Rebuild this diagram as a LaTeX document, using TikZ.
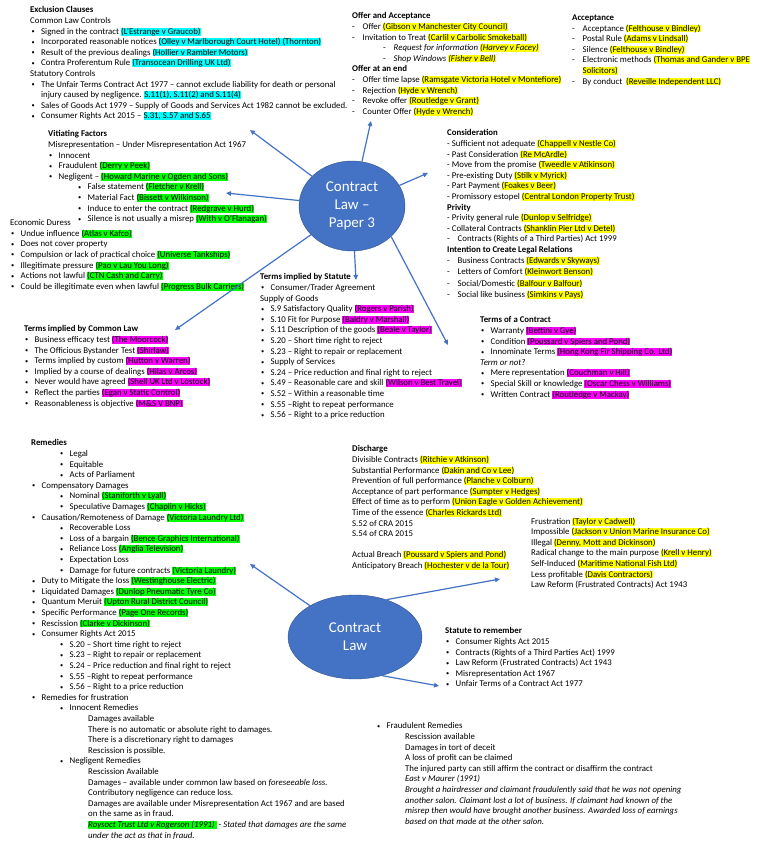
\documentclass[tikz,border=0pt]{standalone}
\usepackage{fontspec}
\setmainfont{Carlito}
\usetikzlibrary{arrows.meta,shapes.geometric}
\definecolor{blob}{HTML}{4472C4}
\definecolor{blobline}{HTML}{2F528F}
\definecolor{hcy}{HTML}{00FFFF}
\definecolor{hye}{HTML}{FFFF00}
\definecolor{hgr}{HTML}{00FF00}
\definecolor{hma}{HTML}{FF00FF}
\newcommand{\hl}[2]{{\setlength{\fboxsep}{0pt}\colorbox{#1}{\vphantom{(}#2}}}
\newcommand{\bu}{\makebox[9.5pt][l]{\raisebox{0.6pt}{\scalebox{0.72}{\textbullet}}}}
\newcommand{\da}{\makebox[10.5pt][l]{-}}
\newcommand{\ind}[1]{\hspace*{#1pt}}

\begin{document}
\begin{tikzpicture}[x=1pt,y=-1pt,
  blk/.style={anchor=north west,inner sep=0pt,align=left,font=\fontsize{8.8}{10.6}\selectfont},
  hub/.style={ellipse,fill=blob,draw=blobline,thin,text=white,align=center,inner sep=0pt,font=\fontsize{15}{18}\selectfont},
  arr/.style={blob,line width=1.2pt,-{Triangle[length=5pt,width=4.5pt]}}]
\useasboundingbox (0,0) rectangle (768,866);
\fill[white] (0,0) rectangle (768,866);

% first map
\node[hub,minimum width=106,minimum height=90] (paper3) at (352,206) {Contract\\Law –\\Paper 3};

\node[blk] (excl) at (30,6.5) {\textbf{Exclusion Clauses}\\
Common Law Controls\\
\ind{1.5}\bu Signed in the contract \hl{hcy}{(L’Estrange v Graucob)}\\
\ind{1.5}\bu Incorporated reasonable notices \hl{hcy}{(Olley v Marlborough Court Hotel) (Thornton)}\\
\ind{1.5}\bu Result of the previous dealings \hl{hcy}{(Hollier v Rambler Motors)}\\
\ind{1.5}\bu Contra Proferentum Rule \hl{hcy}{(Transocean Drilling UK Ltd)}\\
Statutory Controls\\
\ind{1.5}\bu The Unfair Terms Contract Act 1977 – cannot exclude liability for death or personal\\
\ind{11}injury caused by negligence. \hl{hcy}{S.11(1), S.11(2) and S.11(4)}\\
\ind{1.5}\bu Sales of Goods Act 1979 – Supply of Goods and Services Act 1982 cannot be excluded.\\
\ind{1.5}\bu Consumer Rights Act 2015 – \hl{hcy}{S.31, S.57 and S.65}};

\node[blk] (vitiate) at (48,130.5) {\textbf{Vitiating Factors}\\
Misrepresentation – Under Misrepresentation Act 1967\\
\ind{1}\bu Innocent\\
\ind{1}\bu Fraudulent \hl{hgr}{(Derry v Peek)}\\
\ind{1}\bu Negligent – \hl{hgr}{(Howard Marine v Ogden and Sons)}\\
\ind{30}\bu False statement \hl{hgr}{(Fletcher v Krell)}\\
\ind{30}\bu Material Fact \hl{hgr}{(Bissett v Wilkinson)}\\
\ind{30}\bu Induce to enter the contract \hl{hgr}{(Redgrave v Hurd)}\\
\ind{30}\bu Silence is not usually a misrep \hl{hgr}{(With v O’Flanagan)}};

\node[blk] (duress) at (10,219.5) {Economic Duress\\
\ind{1}\bu Undue influence \hl{hgr}{(Atlas v Kafco)}\\
\ind{1}\bu Does not cover property\\
\ind{1}\bu Compulsion or lack of practical choice \hl{hgr}{(Universe Tankships)}\\
\ind{1}\bu Illegitimate pressure \hl{hgr}{(Pao v Lau You Long)}\\
\ind{1}\bu Actions not lawful \hl{hgr}{(CTN Cash and Carry)}\\
\ind{1}\bu Could be illegitimate even when lawful \hl{hgr}{(Progress Bulk Carriers)}};

\node[blk] (offer) at (352,12.5) {\textbf{Offer and Acceptance}\\
\da Offer \hl{hye}{(Gibson v Manchester City Council)}\\
\da Invitation to Treat \hl{hye}{(Carlil v Carbolic Smokeball)}\\
\ind{31}\da\textit{Request for information \hl{hye}{(Harvey v Facey)}}\\
\ind{31}\da\textit{Shop Windows \hl{hye}{(Fisher v Bell)}}\\
\textbf{Offer at an end}\\
\da Offer time lapse \hl{hye}{(Ramsgate Victoria Hotel v Montefiore)}\\
\da Rejection \hl{hye}{(Hyde v Wrench)}\\
\da Revoke offer \hl{hye}{(Routledge v Grant)}\\
\da Counter Offer \hl{hye}{(Hyde v Wrench)}};

\node[blk] (accept) at (572,14.5) {\textbf{Acceptance}\\
\da Acceptance \hl{hye}{(Felthouse v Bindley)}\\
\da Postal Rule \hl{hye}{(Adams v Lindsall)}\\
\da Silence \hl{hye}{(Felthouse v Bindley)}\\
\da Electronic methods \hl{hye}{(Thomas and Gander v BPE}\\
\ind{10.5}\hl{hye}{Solicitors)}\\
\da By conduct \ \hl{hye}{(Reveille Independent LLC)}};

\node[blk] (consid) at (447,129.5) {\textbf{Consideration}\\
- Sufficient not adequate \hl{hye}{(Chappell v Nestle Co)}\\
- Past Consideration \hl{hye}{(Re McArdle)}\\
- Move from the promise \hl{hye}{(Tweedle v Atikinson)}\\
- Pre-existing Duty \hl{hye}{(Stilk v Myrick)}\\
- Part Payment \hl{hye}{(Foakes v Beer)}\\
- Promissory estopel \hl{hye}{(Central London Property Trust)}\\
\textbf{Privity}\\
- Privity general rule \hl{hye}{(Dunlop v Selfridge)}\\
- Collateral Contracts \hl{hye}{(Shanklin Pier Ltd v Detel)}\\
\da Contracts (Rights of a Third Parties) Act 1999\\
\textbf{Intention to Create Legal Relations}\\[0.6pt]
\da Business Contracts \hl{hye}{(Edwards v Skyways)}\\[0.6pt]
\da Letters of Comfort \hl{hye}{(Kleinwort Benson)}\\[0.6pt]
\da Social/Domestic \hl{hye}{(Balfour v Balfour)}\\[0.6pt]
\da Social like business \hl{hye}{(Simkins v Pays)}};

\node[blk] (terms) at (480,316.5) {\textbf{Terms of a Contract}\\
\ind{1}\bu Warranty \hl{hma}{(Bettini v Gye)}\\
\ind{1}\bu Condition \hl{hma}{(Poussard v Spiers and Pond)}\\
\ind{1}\bu Innominate Terms \hl{hma}{(Hong Kong Fir Shipping Co. Ltd)}\\
\textit{Term or not?}\\
\ind{1}\bu Mere representation \hl{hma}{(Couchman v Hill)}\\
\ind{1}\bu Special Skill or knowledge \hl{hma}{(Oscar Chess v Williams)}\\
\ind{1}\bu Written Contract \hl{hma}{(Routledge v Mackay)}};

\node[blk] (statute) at (260,273.5) {\textbf{Terms implied by Statute}\\
\ind{1}\bu Consumer/Trader Agreement\\
Supply of Goods\\
\ind{1}\bu S.9 Satisfactory Quality \hl{hma}{(Rogers v Parish)}\\
\ind{1}\bu S.10 Fit for Purpose \hl{hma}{(Baldry v Marshall)}\\
\ind{1}\bu S.11 Description of the goods \hl{hma}{(Beale v Taylor)}\\
\ind{1}\bu S.20 – Short time right to reject\\
\ind{1}\bu S.23 – Right to repair or replacement\\
\ind{1}\bu Supply of Services\\
\ind{1}\bu S.24 – Price reduction and final right to reject\\
\ind{1}\bu S.49 – Reasonable care and skill \hl{hma}{(Wilson v Best Travel)}\\
\ind{1}\bu S.52 – Within a reasonable time\\
\ind{1}\bu S.55 –Right to repeat performance\\
\ind{1}\bu S.56 – Right to a price reduction};

\node[blk] (common) at (24,325.5) {\textbf{Terms implied by Common Law}\\
\ind{1}\bu Business efficacy test \hl{hma}{(The Moorcock)}\\
\ind{1}\bu The Officious Bystander Test \hl{hma}{(Shirlaw)}\\
\ind{1}\bu Terms implied by custom \hl{hma}{(Hutton v Warren)}\\
\ind{1}\bu Implied by a course of dealings \hl{hma}{(Hilas v Arcos)}\\
\ind{1}\bu Never would have agreed \hl{hma}{(Shell UK Ltd v Lostock)}\\
\ind{1}\bu Reflect the parties \hl{hma}{(Egan v Static Control)}\\
\ind{1}\bu Reasonableness is objective \hl{hma}{(M\&S V BNP)}};

\coordinate (tExcl) at (250,130);
\coordinate (tVit) at (226,193);
\coordinate (tOffer) at (371,121);
\coordinate (tCons) at (428,173);
\coordinate (tCommon) at (175,330);
\coordinate (tStat) at (356,280);
\coordinate (tTerms) at (448,345);
\draw[arr] (paper3) -- (tExcl);
\draw[arr] (paper3) -- (tVit);
\draw[arr] (paper3) -- (tOffer);
\draw[arr] (paper3) -- (tCons);
\draw[arr] (paper3) -- (tCommon);
\draw[arr] (paper3) -- (tStat);
\draw[arr] (paper3.-38) -- (tTerms);

% second map
\node[hub,minimum width=134,minimum height=84] (law) at (355,637) {Contract\\Law};

\node[blk] (remedies) at (31,439.5) {\textbf{Remedies}\\
\ind{29}\bu Legal\\
\ind{29}\bu Equitable\\
\ind{29}\bu Acts of Parliament\\
\ind{1}\bu Compensatory Damages\\
\ind{29}\bu Nominal \hl{hgr}{(Staniforth v Lyall)}\\
\ind{29}\bu Speculative Damages \hl{hgr}{(Chaplin v Hicks)}\\
\ind{1}\bu Causation/Remoteness of Damage \hl{hgr}{(Victoria Laundry Ltd)}\\
\ind{29}\bu Recoverable Loss\\
\ind{29}\bu Loss of a bargain \hl{hgr}{(Bence Graphics International)}\\
\ind{29}\bu Reliance Loss \hl{hgr}{(Anglia Television)}\\
\ind{29}\bu Expectation Loss\\
\ind{29}\bu Damage for future contracts \hl{hgr}{(Victoria Laundry)}\\
\ind{1}\bu Duty to Mitigate the loss \hl{hgr}{(Westinghouse Electric)}\\
\ind{1}\bu Liquidated Damages \hl{hgr}{(Dunlop Pneumatic Tyre Co)}\\
\ind{1}\bu Quantum Meruit \hl{hgr}{(Upton Rural District Council)}\\
\ind{1}\bu Specific Performance \hl{hgr}{(Page One Records)}\\
\ind{1}\bu Rescission \hl{hgr}{(Clarke v Dickinson)}\\
\ind{1}\bu Consumer Rights Act 2015\\
\ind{29}\bu S.20 – Short time right to reject\\
\ind{29}\bu S.23 – Right to repair or replacement\\
\ind{29}\bu S.24 – Price reduction and final right to reject\\
\ind{29}\bu S.55 –Right to repeat performance\\
\ind{29}\bu S.56 – Right to a price reduction\\
\ind{1}\bu Remedies for frustration\\
\ind{29}\bu Innocent Remedies\\
\ind{57}Damages available\\
\ind{57}There is no automatic or absolute right to damages.\\
\ind{57}There is a discretionary right to damages\\
\ind{57}Rescission is possible.\\
\ind{29}\bu Negligent Remedies\\
\ind{57}Rescission Available\\
\ind{57}Damages – available under common law based on \textit{foreseeable loss.}\\
\ind{57}Contributory negligence can reduce loss.\\
\ind{57}Damages are available under Misrepresentation Act 1967 and are based\\
\ind{57}on the same as in fraud.\\
\ind{57}\hl{hgr}{\textit{Roysoct Trust Ltd v Rogerson (1991)} } - \textit{Stated that damages are the same}\\
\ind{57}\textit{under the act as that in fraud.}};

\node[blk] (discharge) at (352,445.5) {\textbf{Discharge}\\
Divisible Contracts \hl{hye}{(Ritchie v Atkinson)}\\
Substantial Performance \hl{hye}{(Dakin and Co v Lee)}\\
Prevention of full performance \hl{hye}{(Planche v Colburn)}\\
Acceptance of part performance \hl{hye}{(Sumpter v Hedges)}\\
Effect of time as to perform \hl{hye}{(Union Eagle v Golden Achievement)}\\
Time of the essence \hl{hye}{(Charles Rickards Ltd)}\\
S.52 of CRA 2015\\
S.54 of CRA 2015\\[10.6pt]
Actual Breach \hl{hye}{(Poussard v Spiers and Pond)}\\
Anticipatory Breach \hl{hye}{(Hochester v de la Tour)}};

\node[blk] (frustr) at (531,517.5) {Frustration \hl{hye}{(Taylor v Cadwell)}\\
Impossible \hl{hye}{(Jackson v Union Marine Insurance Co)}\\
Illegal \hl{hye}{(Denny, Mott and Dickinson)}\\
Radical change to the main purpose \hl{hye}{(Krell v Henry)}\\
Self-Induced \hl{hye}{(Maritime National Fish Ltd)}\\
Less profitable \hl{hye}{(Davis Contractors)}\\
Law Reform (Frustrated Contracts) Act 1943};

\node[blk] (remember) at (445,627.5) {\textbf{Statute to remember}\\
\ind{1}\bu Consumer Rights Act 2015\\
\ind{1}\bu Contracts (Rights of a Third Parties Act) 1999\\
\ind{1}\bu Law Reform (Frustrated Contracts) Act 1943\\
\ind{1}\bu Misrepresentation Act 1967\\
\ind{1}\bu Unfair Terms of a Contract Act 1977};

\node[blk] (fraud) at (377,722.5) {\bu Fraudulent Remedies\\
\ind{28}Rescission available\\
\ind{28}Damages in tort of deceit\\
\ind{28}A loss of profit can be claimed\\
\ind{28}The injured party can still affirm the contract or disaffirm the contract\\
\ind{28}\textit{East v Maurer (1991)}\\
\ind{28}\textit{Brought a hairdresser and claimant fraudulently said that he was not opening}\\
\ind{28}\textit{another salon. Claimant lost a lot of business. If claimant had known of the}\\
\ind{28}\textit{misrep then would have brought another business. Awarded loss of earnings}\\
\ind{28}\textit{based on that made at the other salon.}};

\coordinate (tRem) at (250,564);
\coordinate (tDis) at (500,579);
\coordinate (tRemember) at (439,686);
\draw[arr] (law) -- (tRem);
\draw[arr] (law.50) -- (tDis);
\draw[arr] (law.-55) -- (tRemember);
\end{tikzpicture}
\end{document}
